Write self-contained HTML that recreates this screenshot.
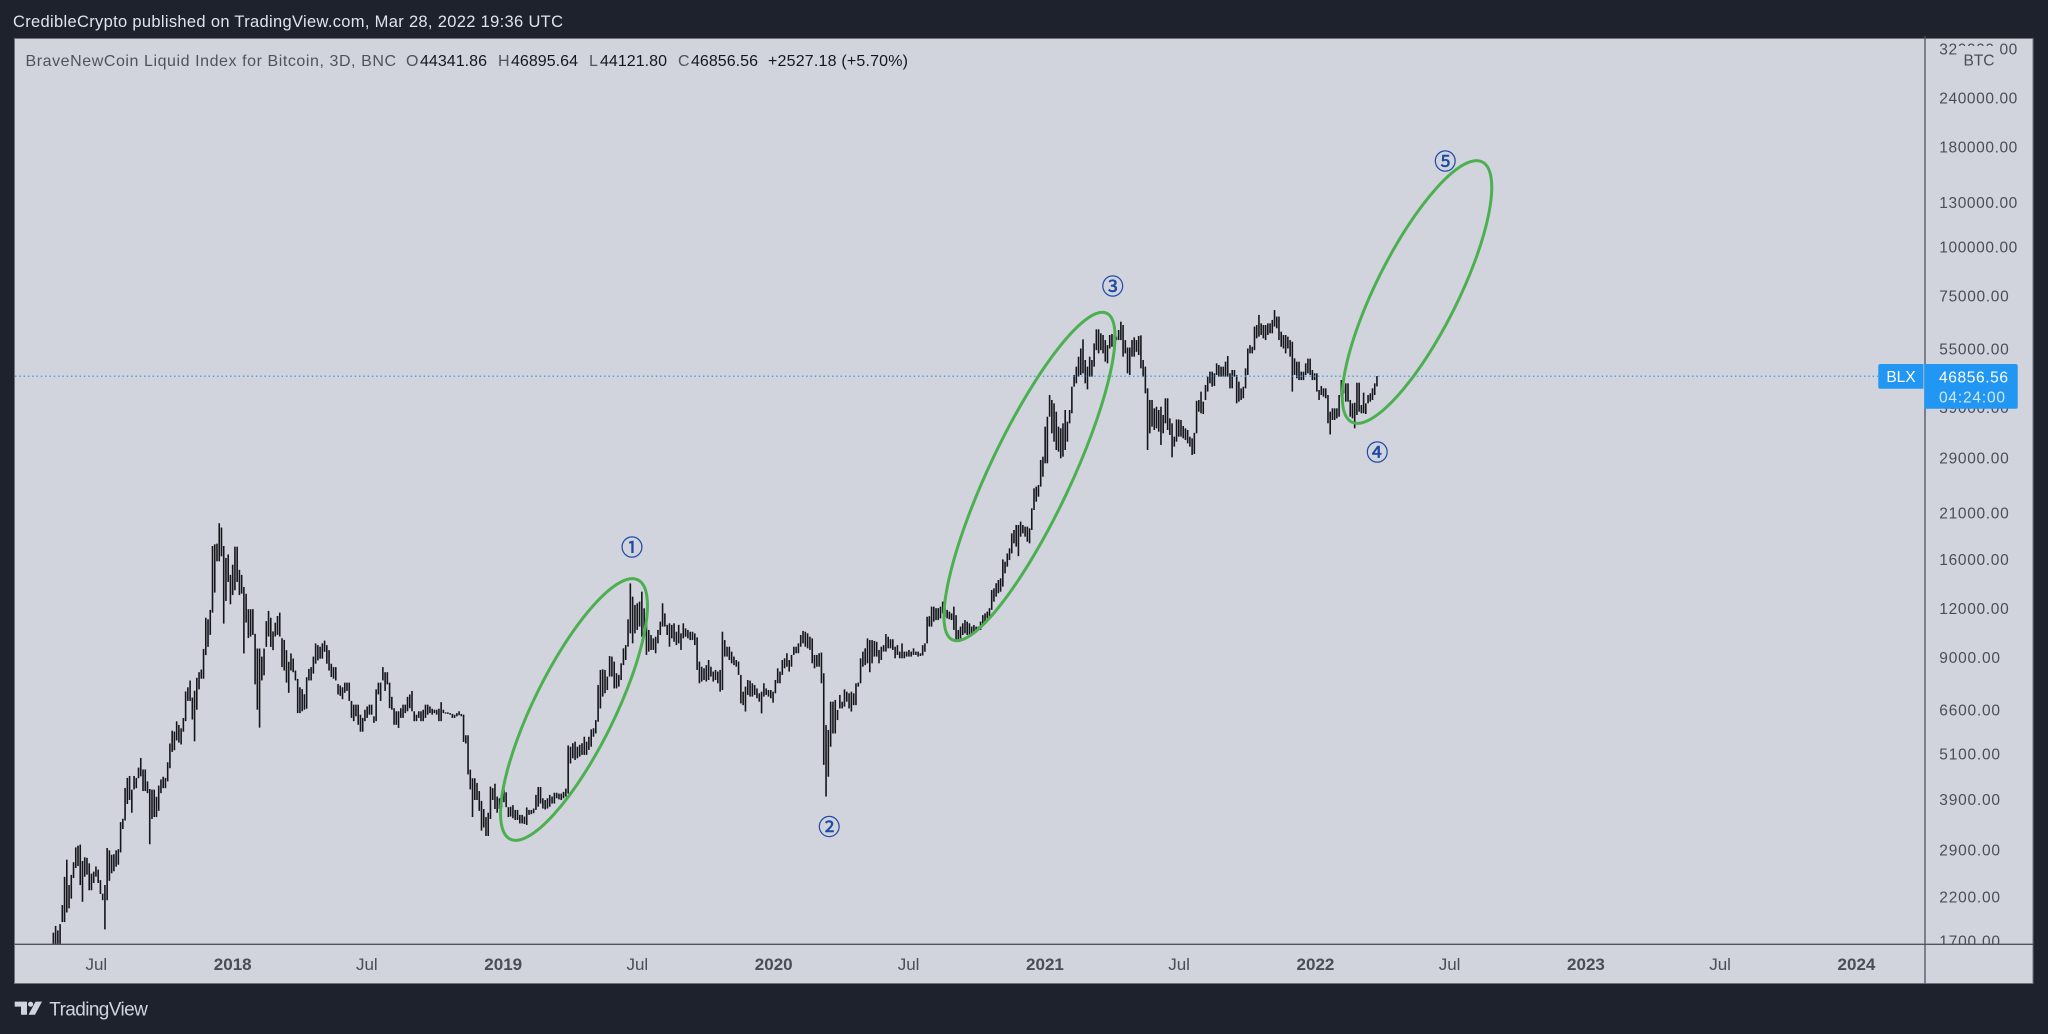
<!DOCTYPE html>
<html lang="en">
<head>
<meta charset="utf-8">
<title>BraveNewCoin Liquid Index for Bitcoin</title>
<style>
html,body{margin:0;padding:0;background:#1e222d;width:2048px;height:1034px;overflow:hidden}
svg{display:block;font-family:"Liberation Sans",sans-serif}
</style>
</head>
<body>
<svg id="chart" xmlns="http://www.w3.org/2000/svg" width="2048" height="1034" viewBox="0 0 2048 1034">
<defs>
<clipPath id="plot-clip"><rect x="15" y="39" width="1910" height="905"/></clipPath>
<clipPath id="axis-clip"><rect x="1926" y="39" width="107" height="905"/></clipPath>
</defs>
<rect x="0" y="0" width="2048" height="1034" fill="#1e222d"/>
<text x="13" y="27" font-size="16.5" fill="#e0e3eb" textLength="550">CredibleCrypto published on TradingView.com, Mar 28, 2022 19:36 UTC</text>
<rect x="14.5" y="38.5" width="2018.5" height="945" fill="#d1d4dc" stroke="#6f727c" stroke-width="1"/>
<g id="bars" clip-path="url(#plot-clip)"></g>
<line id="last-price-line" x1="15" x2="1878" stroke="#2196f3" stroke-width="1.2" stroke-dasharray="1.5 2.8"/>
<g fill="none" stroke="#4caf50" stroke-width="3">
<ellipse cx="574" cy="709.5" rx="144.5" ry="40.4" transform="rotate(-63.75 574 709.5)"/>
<ellipse cx="1029.5" cy="476.5" rx="180.6" ry="40.8" transform="rotate(-64.7 1029.5 476.5)"/>
<ellipse cx="1417" cy="292" rx="145.5" ry="40.8" transform="rotate(-63.35 1417 292)"/>
</g>
<g font-family="'Liberation Sans','Noto Sans CJK JP',sans-serif" font-size="22" fill="#1c4aa6" stroke="#1c4aa6" stroke-width="0.5" text-anchor="middle">
<text x="632" y="555.4">①</text>
<text x="829.3" y="835">②</text>
<text x="1112.7" y="294.4">③</text>
<text x="1377.3" y="460.7">④</text>
<text x="1445.3" y="169.4">⑤</text>
</g>
<g id="price-ticks" clip-path="url(#axis-clip)" font-size="15.5" fill="#4a4d57"></g>
<line x1="1925" x2="1925" y1="36" y2="983.5" stroke="#50535e" stroke-width="1.3"/>
<line x1="14.5" x2="2033" y1="944.3" y2="944.3" stroke="#50535e" stroke-width="1.3"/>
<g id="time-ticks" font-size="17" fill="#4a4d57"></g>
<rect x="1957" y="46" width="43" height="25" fill="#d1d4dc"/>
<text x="1979" y="65.5" font-size="15.5" fill="#4a4d57" text-anchor="middle">BTC</text>
<g font-size="16">
<text x="25.5" y="66" fill="#50535e" textLength="370.5">BraveNewCoin Liquid Index for Bitcoin, 3D, BNC</text>
<text x="406" y="66" fill="#50535e">O</text>
<text x="420" y="66" fill="#131722" textLength="67">44341.86</text>
<text x="498" y="66" fill="#50535e">H</text>
<text x="511" y="66" fill="#131722" textLength="67">46895.64</text>
<text x="589" y="66" fill="#50535e">L</text>
<text x="600" y="66" fill="#131722" textLength="67">44121.80</text>
<text x="678" y="66" fill="#50535e">C</text>
<text x="691" y="66" fill="#131722" textLength="67">46856.56</text>
<text x="768" y="66" fill="#131722" textLength="140">+2527.18 (+5.70%)</text>
</g>
<path d="M1880.3 364H1923.5V388.7H1880.3Q1878.3 388.7 1878.3 386.7V366Q1878.3 364 1880.3 364Z" fill="#2196f3"/>
<text x="1901" y="382" font-size="15.5" fill="#fff" text-anchor="middle">BLX</text>
<path d="M1924.3 364H2015.7Q2017.7 364 2017.7 366V406.7Q2017.7 408.7 2015.7 408.7H1924.3Z" fill="#2196f3"/>
<text id="last-price-text" x="1939" y="382.5" font-size="15.5" fill="#fff" textLength="69"></text>
<text x="1939" y="402.5" font-size="15.5" fill="#cfe8fc" textLength="66">04:24:00</text>
<g fill="#d1d4dc">
<path d="M14.7 1001.6H27V1014.8H21V1006.6H14.7Z"/>
<circle cx="30.6" cy="1004.2" r="2.6"/>
<path d="M35.5 1001.6H42L35 1014.8H28.5Z"/>
<text x="49.3" y="1015.3" font-size="19" textLength="98.5">TradingView</text>
</g>
</svg>
<script>
const priceTickValues = [320000,240000,180000,130000,100000,75000,55000,39000,29000,21000,16000,12000,9000,6600,5100,3900,2900,2200,1700];
const timeTickLabels = ['Jul','2018','Jul','2019','Jul','2020','Jul','2021','Jul','2022','Jul','2023','Jul','2024'];
const timeTickDates = ['2017-07-01','2018-01-01','2018-07-01','2019-01-01','2019-07-01','2020-01-01','2020-07-01','2021-01-01','2021-07-01','2022-01-01','2022-07-01','2023-01-01','2023-07-01','2024-01-01'];
const lastPrice = 46856.56;

const firstBarDates = ['2017-05-04','2019-01-11','2020-07-20'];
const finalBarDates = ['2019-01-08','2020-07-17','2022-03-25'];

const highs2017to2018 = [1785,1857,1809,1877,2100,2477,2740,2362,2506,2700,2945,2975,2994,2720,2780,2770,2682,2525,2555,2633,2585,2430,2245,2362,2935,2895,2820,2830,2895,2915,3417,3485,4175,4430,4480,4135,4480,4430,4705,4980,4655,4655,4340,4150,4135,4135,3965,4235,4390,4460,4430,4855,5420,5845,5815,6175,6045,5925,6295,7360,7540,7845,7100,7390,7975,8240,8370,9445,11345,11240,11880,17290,17460,17530,19760,19270,17290,16120,16450,14590,15490,17220,17220,15030,14590,13590,13060,11930,11930,11930,10320,9470,9470,9030,9470,11120,11810,11345,10470,11020,11460,11690,10060,9960,9380,8760,9200,8930,8320,7920,7540,7460,7240,8000,8400,8490,9030,9760,9660,9570,9760,9920,9660,9380,8660,8490,8490,7690,7620,7540,7750,7750,7750,6960,6810,6810,6810,6420,6300,6610,6740,6810,6810,6360,7450,7750,7750,8490,8240,8240,7750,7130,6670,6550,6550,6670,6810,6810,7130,7230,7380,6550,6420,6550,6550,6610,6810,6810,6740,6650,6610,6610,6650,6910,6610,6510,6510,6480,6450,6420,6480,6550,6450,6420,5690,5690,4650,4420,4420,4300,4100,3870,3690,3520,3610,4210,4170,4280,3970,3930,4010,4140,4070,3730];
const lows2017to2018 = [1550,1560,1590,1610,1900,1900,2010,2060,2180,2460,2610,2640,2360,2140,2480,2510,2290,2290,2390,2480,2390,2240,2160,1820,2160,2420,2530,2560,2630,2660,2860,3280,3450,3800,3890,3610,4140,4170,4420,4470,4100,4100,4050,3000,3480,3520,3520,3650,4050,4170,4170,4340,4690,5160,5210,5520,5450,5390,5810,6180,6960,6960,6240,5490,6610,7450,7930,7930,9110,9560,10260,11690,13150,15800,15800,16270,10960,12520,14000,12280,12960,13330,14000,12960,13070,9200,11030,10070,10160,10260,7670,6610,5950,7850,8090,9560,10160,9560,9380,10160,10260,10160,8490,8320,7750,7300,8320,8240,7850,6480,6480,6550,6610,6650,7850,7850,8170,8660,8830,8920,8920,9290,8660,8320,8010,7930,7850,7230,7170,7030,7300,7380,6960,6300,6180,6360,6050,5810,5810,6180,6300,6420,6420,6120,6180,7230,6960,7850,7380,7670,6670,6610,6050,6050,5940,6300,6300,6480,6550,6670,6550,6180,6180,6300,6180,6180,6300,6420,6480,6420,6480,6420,6180,6180,6480,6460,6450,6420,6300,6300,6360,6400,6360,5470,5420,4520,4140,3520,3890,3890,3650,3250,3310,3150,3150,3480,3890,3690,3610,3690,3730,3840,3730,3520];

const highs2019to2020 = [3740,3775,3670,3670,3565,3565,3530,3725,3670,3670,3700,4010,4200,4200,3930,3890,3930,4010,3970,4060,4060,4040,4040,4080,4160,5360,5320,5430,5480,5320,5380,5430,5640,5480,5640,5890,5930,6220,7640,8350,8380,8350,8030,9060,9030,8770,8190,8110,8680,9480,9660,11240,13880,12840,12230,12350,12470,13220,11990,11090,10560,10250,10050,10150,10560,11090,12350,11640,10880,10980,10880,10980,10450,10880,10350,10980,10660,10560,10450,10450,10350,10110,8770,8510,8430,8590,8850,8510,8270,8350,8270,8350,10450,9950,9570,9570,9300,9030,8850,8770,8110,7350,7570,7870,7840,7720,7640,7490,7280,7350,7720,7490,7420,7420,7350,7870,8430,8270,8850,8940,9210,8850,9120,9570,9570,9760,10250,10500,10450,10350,10150,10050,9120,9120,9210,9250,8190,6040,5870,6930,6930,7000,6600,7210,6930,7450,7350,7280,7350,7280,7720,7750,8940,9300,9480,10050,9950,9950,9900,9850,9390,9570,9660,10310,10150,10000,10000,9570,9660,9300,9760,9300,9300,9390,9300,9480,9300,9300,9210];
const lows2019to2020 = [3530,3495,3460,3460,3390,3390,3380,3360,3565,3580,3600,3670,3740,3810,3700,3680,3700,3740,3810,3810,3930,3905,3890,3930,3970,4040,4820,4970,4920,4970,5020,5070,5070,5070,5220,5320,5640,5750,6160,6660,7140,7280,7420,8030,8030,7490,7490,7570,7870,8590,8850,9570,10350,9760,10350,10560,10770,10150,10150,9120,9300,9390,9390,9210,9760,10250,10770,10770,10250,9570,10050,9850,9660,9760,9390,10050,10150,10050,9950,9950,9660,8350,7720,7800,7870,7800,7870,8030,7800,7870,7720,7350,7420,9030,9030,8850,8680,8590,8510,8110,6860,6790,6540,7210,7140,7140,7210,7070,6930,6470,7140,7210,7140,7070,6890,7280,7720,7720,8110,8430,8510,8270,8510,9120,9210,9210,9570,9760,9570,9480,9390,8680,8430,8510,8510,7720,4780,3970,4460,5320,5750,5750,6220,6660,6660,6730,6930,6660,6540,6790,6790,7570,7720,8510,8590,8680,8240,8680,9030,9030,8680,8850,9300,9300,9480,9480,9390,8940,9120,8940,8940,8940,9030,9030,9030,9120,9120,9030,9060];

const highs2020to2022 = [9660,9760,11410,11450,12110,12110,12000,12000,12110,12470,12000,11880,11760,11640,12110,11520,10560,10770,10980,11190,11090,10980,10770,10870,10770,10770,11090,11520,11640,11760,12000,13350,13480,13890,14160,14300,15980,15770,16550,17050,18620,18990,19560,19560,19950,19560,19370,19370,19180,21570,24260,24500,24730,28650,29210,34840,36940,41950,40750,39950,38040,34840,34500,35530,38420,35880,38420,44060,47200,49560,52550,55140,58170,51530,49560,52550,51530,56800,61700,61700,60270,59680,57930,56240,59680,60030,59680,59100,61460,64540,63280,57930,55460,55460,57930,58860,57930,59340,59570,51530,49560,43630,40750,40750,38800,39170,38420,39170,37310,41150,41150,36580,35530,32850,36350,36350,36230,34980,34500,34160,32850,32530,33600,40550,40750,42800,40350,44500,46730,48130,48130,47660,50530,50040,49560,49560,51030,52750,47660,48600,48600,47200,45370,43630,44060,49070,55140,56240,55690,62680,63280,67150,63900,63280,63280,63900,63900,65200,69100,66500,66500,60860,59680,59680,59100,57930,57360,52040,51030,51030,48130,48130,50530,51950,51950,48600,47660,47660,43200,44240,43630,43630,41950,38040,38800,38800,38800,41950,45800,45800,44930,44930,40750,39950,40100,45100,45100,39550,42550,39950,41950,42370,43630,44930,46895.64];
const lows2020to2022 = [9090,9290,9760,10770,10770,11090,11190,11190,11300,11640,11410,11300,11240,11190,10560,9950,9950,10050,10250,10350,10250,10150,10250,10450,10450,10560,10560,10870,11090,11300,11410,11880,12470,12840,13100,13220,13620,14730,15310,15920,16550,17560,17220,16290,18260,18620,18260,17730,17560,18990,21360,22430,23090,24500,25970,28090,28090,36940,33500,31900,30380,30080,28930,29210,30380,31900,35530,37680,44060,44930,46730,47200,47660,44930,43370,46730,46730,49560,54600,53570,54600,53570,51030,50530,55140,55690,56240,57930,57930,57930,52550,53570,47660,47200,52550,52550,54060,53060,49070,46730,42370,30380,33500,34840,34160,34500,33830,31290,33500,35530,34160,33180,29100,30980,31900,32850,32850,32530,32220,31590,30980,29500,29680,33500,38040,37680,37530,40750,42800,44930,44060,44240,47200,46730,46730,46730,46730,46730,43630,43630,46730,39950,40350,40750,41150,43630,47200,53570,53570,54600,58520,59100,59680,58520,57930,59680,60270,60270,62680,62070,57930,55690,55140,53570,55140,52550,42800,47200,46290,45800,45800,45800,47200,47660,47200,45800,45800,42800,40750,41950,41550,41150,35530,33280,36230,36230,36580,36940,41550,42370,40350,40350,36940,36580,34500,37310,38040,37680,37680,37530,39950,40350,40750,41950,44121.80];

const highSegments = [highs2017to2018, highs2019to2020, highs2020to2022];
const lowSegments = [lows2017to2018, lows2019to2020, lows2020to2022];

const SVG_NS = 'http://www.w3.org/2000/svg';
const DAY_MS = 86400000;

function dayNumber(dateText) {
  return (Date.parse(dateText + 'T00:00:00Z') - Date.UTC(2018, 0, 1)) / DAY_MS;
}
function xOf(day) {
  return 232.7 + day * 0.7411;
}
function yOf(price) {
  return 98 + 170.3 * Math.log(240000 / price);
}

const barsGroup = document.getElementById('bars');
highSegments.forEach(function (segmentHighs, segmentIndex) {
  const segmentLows = lowSegments[segmentIndex];
  const startDay = dayNumber(firstBarDates[segmentIndex]);
  const endDay = dayNumber(finalBarDates[segmentIndex]);
  const dayStep = (endDay - startDay) / (segmentHighs.length - 1);
  segmentHighs.forEach(function (high, barIndex) {
    const x = xOf(startDay + barIndex * dayStep);
    const el = document.createElementNS(SVG_NS, 'line');
    
    
    el.setAttribute('x1', x.toFixed(2));
    el.setAttribute('x2', x.toFixed(2));
    el.setAttribute('y1', yOf(high).toFixed(2));
    el.setAttribute('y2', yOf(segmentLows[barIndex]).toFixed(2));
    el.setAttribute('stroke', '#15161c');
    el.setAttribute('stroke-width', '1.6');
    barsGroup.appendChild(el);
  });
});

const priceTicksGroup = document.getElementById('price-ticks');
priceTickValues.forEach(function (value) {
  const label = value.toFixed(2);
  const el = document.createElementNS(SVG_NS, 'text');
  
  
  el.setAttribute('x', '1939.3');
  el.setAttribute('y', (yOf(value) + 5.6).toFixed(2));
  el.setAttribute('textLength', (label.length * 8.67).toFixed(1));
  el.textContent = label;
  priceTicksGroup.appendChild(el);
});

const timeTicksGroup = document.getElementById('time-ticks');
timeTickLabels.forEach(function (label, tickIndex) {
  const isYear = label !== 'Jul';
  const el = document.createElementNS(SVG_NS, 'text');
  
  
  el.setAttribute('x', xOf(dayNumber(timeTickDates[tickIndex])).toFixed(2));
  el.setAttribute('y', '970');
  el.setAttribute('text-anchor', 'middle');
  el.setAttribute('font-weight', isYear ? '700' : '400');
  el.textContent = label;
  timeTicksGroup.appendChild(el);
});

const lastPriceLine = document.getElementById('last-price-line');
lastPriceLine.setAttribute('y1', yOf(lastPrice).toFixed(2));
lastPriceLine.setAttribute('y2', yOf(lastPrice).toFixed(2));
document.getElementById('last-price-text').textContent = lastPrice.toFixed(2);
</script>
</body>
</html>
